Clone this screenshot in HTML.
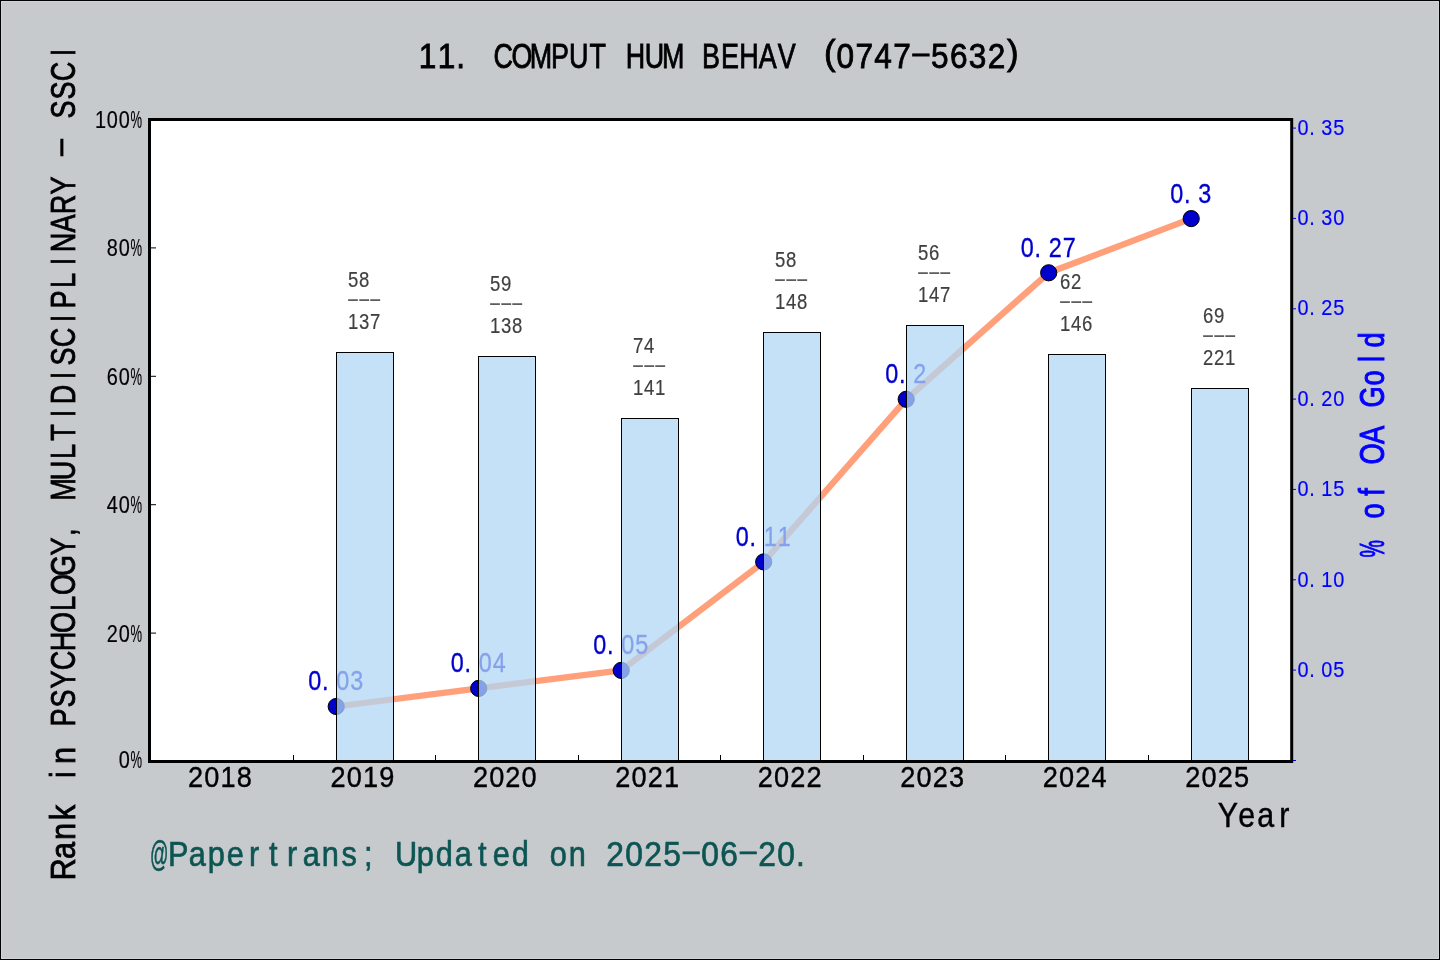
<!DOCTYPE html>
<html lang="en"><head><meta charset="utf-8"><title>11. COMPUT HUM BEHAV (0747-5632)</title>
<style>html,body{margin:0;padding:0;background:#c6cacd;}body{width:1440px;height:960px;overflow:hidden;}svg{display:block;font-family:'Liberation Sans', 'Noto Sans CJK SC', sans-serif;}text{white-space:pre;}</style>
</head><body>
<svg width="1440" height="960" viewBox="0 0 1440 960">
<rect x="0" y="0" width="1440" height="960" fill="#c6cacd"/>
<rect x="1.5" y="1.5" width="1437" height="957" fill="none" stroke="#d1d4d7" stroke-width="1"/>
<rect x="0.5" y="0.5" width="1439" height="959" fill="none" stroke="#000" stroke-width="1"/>
<rect x="149.5" y="119.5" width="1142.2" height="642.0" fill="#fff"/>
<polyline fill="none" stroke="#ffa07a" stroke-width="6.3" stroke-linejoin="round" points="336.2,706.5 478.7,688.4 621.2,670.4 763.7,561.9 906.2,399.3 1048.7,272.8 1191.2,218.6"/>
<circle cx="336.2" cy="706.5" r="8.1" fill="#0000cd" stroke="#000" stroke-width="1"/>
<circle cx="478.7" cy="688.4" r="8.1" fill="#0000cd" stroke="#000" stroke-width="1"/>
<circle cx="621.2" cy="670.4" r="8.1" fill="#0000cd" stroke="#000" stroke-width="1"/>
<circle cx="763.7" cy="561.9" r="8.1" fill="#0000cd" stroke="#000" stroke-width="1"/>
<circle cx="906.2" cy="399.3" r="8.1" fill="#0000cd" stroke="#000" stroke-width="1"/>
<circle cx="1048.7" cy="272.8" r="8.1" fill="#0000cd" stroke="#000" stroke-width="1"/>
<circle cx="1191.2" cy="218.6" r="8.1" fill="#0000cd" stroke="#000" stroke-width="1"/>
<g fill="#0000cd" stroke="#0000cd">
<text x="314.70 325.20 342.70 356.70" y="690.39" font-size="26.74" text-anchor="middle" stroke-width="0.34" ><tspan textLength="45.55" lengthAdjust="spacingAndGlyphs">0.03</tspan></text>
<text x="457.20 467.70 485.20 499.20" y="672.32" font-size="26.74" text-anchor="middle" stroke-width="0.34" ><tspan textLength="45.55" lengthAdjust="spacingAndGlyphs">0.04</tspan></text>
<text x="599.70 610.20 627.70 641.70" y="654.25" font-size="26.74" text-anchor="middle" stroke-width="0.34" ><tspan textLength="45.55" lengthAdjust="spacingAndGlyphs">0.05</tspan></text>
<text x="742.20 752.70 770.20 784.20" y="545.83" font-size="26.74" text-anchor="middle" stroke-width="0.34" ><tspan textLength="45.55" lengthAdjust="spacingAndGlyphs">0.11</tspan></text>
<text x="891.70 902.20 919.70" y="383.20" font-size="26.74" text-anchor="middle" stroke-width="0.34" ><tspan textLength="32.54" lengthAdjust="spacingAndGlyphs">0.2</tspan></text>
<text x="1027.20 1037.70 1055.20 1069.20" y="256.71" font-size="26.74" text-anchor="middle" stroke-width="0.34" ><tspan textLength="45.55" lengthAdjust="spacingAndGlyphs">0.27</tspan></text>
<text x="1176.70 1187.20 1204.70" y="202.50" font-size="26.74" text-anchor="middle" stroke-width="0.34" ><tspan textLength="32.54" lengthAdjust="spacingAndGlyphs">0.3</tspan></text>
</g>
<g fill="#b2d7f4" fill-opacity="0.75" stroke="#000" stroke-width="1">
<rect x="336.5" y="352.5" width="57" height="409.0"/>
<rect x="478.5" y="356.5" width="57" height="405.0"/>
<rect x="621.5" y="418.5" width="57" height="343.0"/>
<rect x="763.5" y="332.5" width="57" height="429.0"/>
<rect x="906.5" y="325.5" width="57" height="436.0"/>
<rect x="1048.5" y="354.5" width="57" height="407.0"/>
<rect x="1191.5" y="388.5" width="57" height="373.0"/>
</g>
<g fill="#404040" stroke="#404040">
<text x="353.05 364.15" y="286.60" font-size="21.20" text-anchor="middle" stroke-width="0.18" ><tspan textLength="20.64" lengthAdjust="spacingAndGlyphs">58</tspan></text>
<text x="353.05 364.15 375.25" y="306.22" font-size="21.20" text-anchor="middle" stroke-width="0.18" fill="#5c5c5c" stroke="#5c5c5c"><tspan textLength="38.98" lengthAdjust="spacingAndGlyphs">---</tspan></text>
<text x="353.05 364.15 375.25" y="328.50" font-size="21.20" text-anchor="middle" stroke-width="0.18" ><tspan textLength="30.97" lengthAdjust="spacingAndGlyphs">137</tspan></text>
<text x="495.05 506.15" y="290.60" font-size="21.20" text-anchor="middle" stroke-width="0.18" ><tspan textLength="20.64" lengthAdjust="spacingAndGlyphs">59</tspan></text>
<text x="495.05 506.15 517.25" y="310.22" font-size="21.20" text-anchor="middle" stroke-width="0.18" fill="#5c5c5c" stroke="#5c5c5c"><tspan textLength="38.98" lengthAdjust="spacingAndGlyphs">---</tspan></text>
<text x="495.05 506.15 517.25" y="332.50" font-size="21.20" text-anchor="middle" stroke-width="0.18" ><tspan textLength="30.97" lengthAdjust="spacingAndGlyphs">138</tspan></text>
<text x="638.05 649.15" y="352.60" font-size="21.20" text-anchor="middle" stroke-width="0.18" ><tspan textLength="20.64" lengthAdjust="spacingAndGlyphs">74</tspan></text>
<text x="638.05 649.15 660.25" y="372.22" font-size="21.20" text-anchor="middle" stroke-width="0.18" fill="#5c5c5c" stroke="#5c5c5c"><tspan textLength="38.98" lengthAdjust="spacingAndGlyphs">---</tspan></text>
<text x="638.05 649.15 660.25" y="394.50" font-size="21.20" text-anchor="middle" stroke-width="0.18" ><tspan textLength="30.97" lengthAdjust="spacingAndGlyphs">141</tspan></text>
<text x="780.05 791.15" y="266.60" font-size="21.20" text-anchor="middle" stroke-width="0.18" ><tspan textLength="20.64" lengthAdjust="spacingAndGlyphs">58</tspan></text>
<text x="780.05 791.15 802.25" y="286.22" font-size="21.20" text-anchor="middle" stroke-width="0.18" fill="#5c5c5c" stroke="#5c5c5c"><tspan textLength="38.98" lengthAdjust="spacingAndGlyphs">---</tspan></text>
<text x="780.05 791.15 802.25" y="308.50" font-size="21.20" text-anchor="middle" stroke-width="0.18" ><tspan textLength="30.97" lengthAdjust="spacingAndGlyphs">148</tspan></text>
<text x="923.05 934.15" y="259.60" font-size="21.20" text-anchor="middle" stroke-width="0.18" ><tspan textLength="20.64" lengthAdjust="spacingAndGlyphs">56</tspan></text>
<text x="923.05 934.15 945.25" y="279.22" font-size="21.20" text-anchor="middle" stroke-width="0.18" fill="#5c5c5c" stroke="#5c5c5c"><tspan textLength="38.98" lengthAdjust="spacingAndGlyphs">---</tspan></text>
<text x="923.05 934.15 945.25" y="301.50" font-size="21.20" text-anchor="middle" stroke-width="0.18" ><tspan textLength="30.97" lengthAdjust="spacingAndGlyphs">147</tspan></text>
<text x="1065.05 1076.15" y="288.60" font-size="21.20" text-anchor="middle" stroke-width="0.18" ><tspan textLength="20.64" lengthAdjust="spacingAndGlyphs">62</tspan></text>
<text x="1065.05 1076.15 1087.25" y="308.22" font-size="21.20" text-anchor="middle" stroke-width="0.18" fill="#5c5c5c" stroke="#5c5c5c"><tspan textLength="38.98" lengthAdjust="spacingAndGlyphs">---</tspan></text>
<text x="1065.05 1076.15 1087.25" y="330.50" font-size="21.20" text-anchor="middle" stroke-width="0.18" ><tspan textLength="30.97" lengthAdjust="spacingAndGlyphs">146</tspan></text>
<text x="1208.05 1219.15" y="322.60" font-size="21.20" text-anchor="middle" stroke-width="0.18" ><tspan textLength="20.64" lengthAdjust="spacingAndGlyphs">69</tspan></text>
<text x="1208.05 1219.15 1230.25" y="342.22" font-size="21.20" text-anchor="middle" stroke-width="0.18" fill="#5c5c5c" stroke="#5c5c5c"><tspan textLength="38.98" lengthAdjust="spacingAndGlyphs">---</tspan></text>
<text x="1208.05 1219.15 1230.25" y="364.50" font-size="21.20" text-anchor="middle" stroke-width="0.18" ><tspan textLength="30.97" lengthAdjust="spacingAndGlyphs">221</tspan></text>
</g>
<g stroke="#000" stroke-width="1">
<line x1="293.5" y1="755" x2="293.5" y2="761"/>
<line x1="435.5" y1="755" x2="435.5" y2="761"/>
<line x1="578.5" y1="755" x2="578.5" y2="761"/>
<line x1="720.5" y1="755" x2="720.5" y2="761"/>
<line x1="863.5" y1="755" x2="863.5" y2="761"/>
<line x1="1005.5" y1="755" x2="1005.5" y2="761"/>
<line x1="1148.5" y1="755" x2="1148.5" y2="761"/>
<line x1="150" y1="633.1" x2="156" y2="633.1"/>
<line x1="150" y1="504.7" x2="156" y2="504.7"/>
<line x1="150" y1="376.3" x2="156" y2="376.3"/>
<line x1="150" y1="247.9" x2="156" y2="247.9"/>
</g>
<rect x="149.5" y="119.5" width="1142.2" height="642.0" fill="none" stroke="#000" stroke-width="3"/>
<g stroke="#00f" stroke-width="1">
<line x1="1293" y1="760.5" x2="1296" y2="760.5"/>
<line x1="1293" y1="670.1" x2="1296" y2="670.1"/>
<line x1="1293" y1="579.8" x2="1296" y2="579.8"/>
<line x1="1293" y1="489.4" x2="1296" y2="489.4"/>
<line x1="1293" y1="399.1" x2="1296" y2="399.1"/>
<line x1="1293" y1="308.8" x2="1296" y2="308.8"/>
<line x1="1293" y1="218.4" x2="1296" y2="218.4"/>
<line x1="1293" y1="128.1" x2="1296" y2="128.1"/>
</g>
<g fill="#00f" stroke="#00f">
<text x="1303.05 1311.97 1326.85 1338.75" y="676.85" font-size="22.73" text-anchor="middle" stroke-width="0.19" ><tspan textLength="38.71" lengthAdjust="spacingAndGlyphs">0.05</tspan></text>
<text x="1303.05 1311.97 1326.85 1338.75" y="586.50" font-size="22.73" text-anchor="middle" stroke-width="0.19" ><tspan textLength="38.71" lengthAdjust="spacingAndGlyphs">0.10</tspan></text>
<text x="1303.05 1311.97 1326.85 1338.75" y="496.15" font-size="22.73" text-anchor="middle" stroke-width="0.19" ><tspan textLength="38.71" lengthAdjust="spacingAndGlyphs">0.15</tspan></text>
<text x="1303.05 1311.97 1326.85 1338.75" y="405.80" font-size="22.73" text-anchor="middle" stroke-width="0.19" ><tspan textLength="38.71" lengthAdjust="spacingAndGlyphs">0.20</tspan></text>
<text x="1303.05 1311.97 1326.85 1338.75" y="315.45" font-size="22.73" text-anchor="middle" stroke-width="0.19" ><tspan textLength="38.71" lengthAdjust="spacingAndGlyphs">0.25</tspan></text>
<text x="1303.05 1311.97 1326.85 1338.75" y="225.10" font-size="22.73" text-anchor="middle" stroke-width="0.19" ><tspan textLength="38.71" lengthAdjust="spacingAndGlyphs">0.30</tspan></text>
<text x="1303.05 1311.97 1326.85 1338.75" y="134.75" font-size="22.73" text-anchor="middle" stroke-width="0.19" ><tspan textLength="38.71" lengthAdjust="spacingAndGlyphs">0.35</tspan></text>
</g>
<g fill="#000" stroke="#000">
<text x="124.25 136.15" y="768.20" font-size="23.18" text-anchor="middle" stroke-width="0.19" ><tspan textLength="11.06" lengthAdjust="spacingAndGlyphs">0</tspan><tspan textLength="11.54" lengthAdjust="spacingAndGlyphs">%</tspan></text>
<text x="112.35 124.25 136.15" y="641.60" font-size="23.18" text-anchor="middle" stroke-width="0.19" ><tspan textLength="22.12" lengthAdjust="spacingAndGlyphs">20</tspan><tspan textLength="11.54" lengthAdjust="spacingAndGlyphs">%</tspan></text>
<text x="112.35 124.25 136.15" y="513.20" font-size="23.18" text-anchor="middle" stroke-width="0.19" ><tspan textLength="22.12" lengthAdjust="spacingAndGlyphs">40</tspan><tspan textLength="11.54" lengthAdjust="spacingAndGlyphs">%</tspan></text>
<text x="112.35 124.25 136.15" y="384.80" font-size="23.18" text-anchor="middle" stroke-width="0.19" ><tspan textLength="22.12" lengthAdjust="spacingAndGlyphs">60</tspan><tspan textLength="11.54" lengthAdjust="spacingAndGlyphs">%</tspan></text>
<text x="112.35 124.25 136.15" y="256.40" font-size="23.18" text-anchor="middle" stroke-width="0.19" ><tspan textLength="22.12" lengthAdjust="spacingAndGlyphs">80</tspan><tspan textLength="11.54" lengthAdjust="spacingAndGlyphs">%</tspan></text>
<text x="100.45 112.35 124.25 136.15" y="128.00" font-size="23.18" text-anchor="middle" stroke-width="0.19" ><tspan textLength="33.17" lengthAdjust="spacingAndGlyphs">100</tspan><tspan textLength="11.54" lengthAdjust="spacingAndGlyphs">%</tspan></text>
<text x="195.43 211.68 227.93 244.18" y="787.20" font-size="30.20" text-anchor="middle" stroke-width="0.39" ><tspan textLength="60.42" lengthAdjust="spacingAndGlyphs">2018</tspan></text>
<text x="337.93 354.18 370.43 386.68" y="787.20" font-size="30.20" text-anchor="middle" stroke-width="0.39" ><tspan textLength="60.42" lengthAdjust="spacingAndGlyphs">2019</tspan></text>
<text x="480.43 496.68 512.92 529.17" y="787.20" font-size="30.20" text-anchor="middle" stroke-width="0.39" ><tspan textLength="60.42" lengthAdjust="spacingAndGlyphs">2020</tspan></text>
<text x="622.92 639.17 655.42 671.67" y="787.20" font-size="30.20" text-anchor="middle" stroke-width="0.39" ><tspan textLength="60.42" lengthAdjust="spacingAndGlyphs">2021</tspan></text>
<text x="765.42 781.67 797.92 814.17" y="787.20" font-size="30.20" text-anchor="middle" stroke-width="0.39" ><tspan textLength="60.42" lengthAdjust="spacingAndGlyphs">2022</tspan></text>
<text x="907.92 924.17 940.42 956.67" y="787.20" font-size="30.20" text-anchor="middle" stroke-width="0.39" ><tspan textLength="60.42" lengthAdjust="spacingAndGlyphs">2023</tspan></text>
<text x="1050.42 1066.67 1082.92 1099.17" y="787.20" font-size="30.20" text-anchor="middle" stroke-width="0.39" ><tspan textLength="60.42" lengthAdjust="spacingAndGlyphs">2024</tspan></text>
<text x="1192.92 1209.17 1225.42 1241.67" y="787.20" font-size="30.20" text-anchor="middle" stroke-width="0.39" ><tspan textLength="60.42" lengthAdjust="spacingAndGlyphs">2025</tspan></text>
<text x="1228.00 1246.80 1265.60 1284.40" y="826.90" font-size="34.59" text-anchor="middle" stroke-width="0.45" ><tspan textLength="64.25" lengthAdjust="spacingAndGlyphs">Year</tspan></text>
<text x="427.55 446.45 460.62 484.25 503.15 522.05 540.95 559.85 578.75 597.65 616.55 635.45 654.35 673.25 692.15 711.05 729.95 748.85 767.75 786.65 805.55 829.71 845.35 864.25 883.15 902.05 920.95 939.85 958.75 977.65 996.55 1012.69" y="67.80 67.80 67.80 67.80 67.80 67.80 67.80 67.80 67.80 67.80 67.80 67.80 67.80 67.80 67.80 67.80 67.80 67.80 67.80 67.80 67.80 65.15 67.80 67.80 67.80 67.80 62.13 67.80 67.80 67.80 67.80 65.15" font-size="34.78" text-anchor="middle" stroke-width="0.83" ><tspan textLength="43.92" lengthAdjust="spacingAndGlyphs">11.</tspan> <tspan textLength="116.56" lengthAdjust="spacingAndGlyphs">COMPUT</tspan> <tspan textLength="61.26" lengthAdjust="spacingAndGlyphs">HUM</tspan> <tspan textLength="91.22" lengthAdjust="spacingAndGlyphs">BEHAV</tspan> (<tspan textLength="70.28" lengthAdjust="spacingAndGlyphs">0747</tspan><tspan textLength="21.31" lengthAdjust="spacingAndGlyphs" font-size="27.82">-</tspan><tspan textLength="70.28" lengthAdjust="spacingAndGlyphs">5632</tspan>)</text>
<g transform="translate(74.7,879) rotate(-90)"><text x="9.50 28.50 47.50 66.50 85.50 104.50 123.50 142.50 161.50 180.50 199.50 218.50 237.50 256.50 275.50 294.50 313.50 332.50 346.75 370.50 389.50 408.50 427.50 446.50 465.50 484.50 503.50 522.50 541.50 560.50 579.50 598.50 617.50 636.50 655.50 674.50 693.50 712.50 731.50 750.50 769.50 788.50 807.50 826.50" y="0.00 0.00 0.00 0.00 0.00 0.00 0.00 0.00 0.00 0.00 0.00 0.00 0.00 0.00 0.00 0.00 0.00 0.00 0.00 0.00 0.00 0.00 0.00 0.00 0.00 0.00 0.00 0.00 0.00 0.00 0.00 0.00 0.00 0.00 0.00 0.00 0.00 0.00 -5.70 0.00 0.00 0.00 0.00 0.00" font-size="34.96" text-anchor="middle" stroke-width="0.84" ><tspan textLength="71.79" lengthAdjust="spacingAndGlyphs">Rank</tspan> <tspan textLength="23.93" lengthAdjust="spacingAndGlyphs">in</tspan> <tspan textLength="196.94" lengthAdjust="spacingAndGlyphs">PSYCHOLOGY,</tspan> <tspan textLength="269.06" lengthAdjust="spacingAndGlyphs">MULTIDISCIPLINARY</tspan> <tspan textLength="21.45" lengthAdjust="spacingAndGlyphs" font-size="27.97">-</tspan> <tspan textLength="63.14" lengthAdjust="spacingAndGlyphs">SSCI</tspan></text></g>
</g>
<g transform="translate(1384.4,558.4) rotate(-90)" fill="#00f" stroke="#00f"><text x="9.50 28.50 47.50 66.50 85.50 104.50 123.50 142.50 161.50 180.50 199.50 218.50" y="0.00" font-size="34.96" text-anchor="middle" stroke-width="1.00" ><tspan textLength="17.41" lengthAdjust="spacingAndGlyphs">%</tspan> <tspan textLength="22.75" lengthAdjust="spacingAndGlyphs">of</tspan> <tspan textLength="39.41" lengthAdjust="spacingAndGlyphs">OA</tspan> <tspan textLength="57.62" lengthAdjust="spacingAndGlyphs">Gold</tspan></text></g>
<g fill="#0c5553" stroke="#0c5553"><text x="159.20 178.20 197.20 216.20 235.20 254.20 273.20 292.20 311.20 330.20 349.20 368.20 387.20 406.20 425.20 444.20 463.20 482.20 501.20 520.20 539.20 558.20 577.20 596.20 615.20 634.20 653.20 672.20 691.20 710.20 729.20 748.20 767.20 786.20 800.45" y="866.00 866.00 866.00 866.00 866.00 866.00 866.00 866.00 866.00 866.00 866.00 866.00 866.00 866.00 866.00 866.00 866.00 866.00 866.00 866.00 866.00 866.00 866.00 866.00 866.00 866.00 866.00 866.00 860.30 866.00 866.00 860.30 866.00 866.00 866.00" font-size="34.96" text-anchor="middle" stroke-width="0.65" ><tspan textLength="18.45" lengthAdjust="spacingAndGlyphs">@</tspan><tspan textLength="158.98" lengthAdjust="spacingAndGlyphs">Papertrans;</tspan> <tspan textLength="116.28" lengthAdjust="spacingAndGlyphs">Updated</tspan> <tspan textLength="34.21" lengthAdjust="spacingAndGlyphs">on</tspan> <tspan textLength="70.68" lengthAdjust="spacingAndGlyphs">2025</tspan><tspan textLength="21.45" lengthAdjust="spacingAndGlyphs" font-size="27.97">-</tspan><tspan textLength="35.34" lengthAdjust="spacingAndGlyphs">06</tspan><tspan textLength="21.45" lengthAdjust="spacingAndGlyphs" font-size="27.97">-</tspan><tspan textLength="44.17" lengthAdjust="spacingAndGlyphs">20.</tspan></text></g>
</svg></body></html>
